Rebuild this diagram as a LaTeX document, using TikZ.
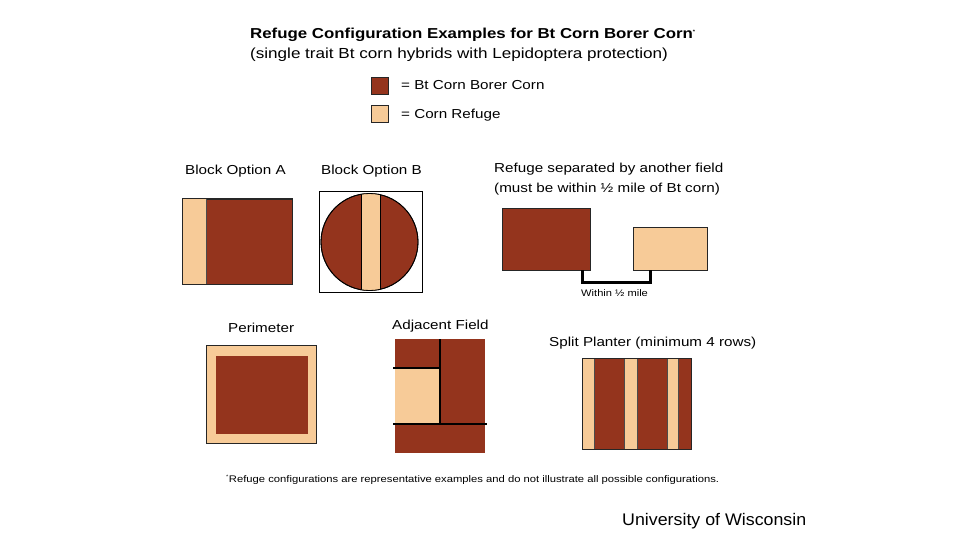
\documentclass[tikz,border=0pt]{standalone}
\usepackage{fontspec}
\setmainfont{Liberation Sans}[FakeStretch=1.17]
\newfontfamily\univfont{Liberation Sans}[FakeStretch=1.06]
\definecolor{btc}{RGB}{148,52,29}
\definecolor{refc}{RGB}{247,203,152}
\begin{document}
\begin{tikzpicture}[x=1pt,y=-1pt,
  txt/.style={anchor=base west,inner sep=0pt,font=\fontsize{13}{15}\selectfont},
  bt/.style={fill=btc,draw=black!85,line width=0.9pt},
  rf/.style={fill=refc,draw=black!85,line width=0.9pt},
  thickline/.style={line width=2.2pt,black},
  fld/.style={rectangle,inner sep=0pt}]
\useasboundingbox (0,0) rectangle (960,540);
\fill[white] (0,0) rectangle (960,540);
% title
\node[txt,font=\fontsize{14.4}{16}\bfseries\selectfont] (title) at (250,39) {Refuge Configuration Examples for Bt Corn Borer Corn\textsuperscript{\tiny*}};
\node[txt,font=\fontsize{14.6}{16}\selectfont] (subtitle) at (250,59) {(single trait Bt corn hybrids with Lepidoptera protection)};
% legend
\node[fld,bt,minimum width=17pt,minimum height=17pt] (legbt) at (379.5,85.5) {};
\node[txt] (legbttxt) at (401,90) {= Bt Corn Borer Corn};
\node[fld,rf,minimum width=17pt,minimum height=17pt] (legrf) at (379.5,113.5) {};
\node[txt] (legrftxt) at (401,119) {= Corn Refuge};
% Block option A
\node[txt] (laba) at (185,175) {Block Option A};
\node[fld,bt,minimum width=109pt,minimum height=85pt] (blocka) at (237.5,241.5) {};
\fill[refc] (blocka.north west) rectangle ([xshift=24pt]blocka.south west);
\draw[black!85,line width=0.9pt] (blocka.north west) rectangle (blocka.south east);
\draw[black!70,line width=0.6pt] ([xshift=24pt]blocka.north west) -- ([xshift=24pt]blocka.south west);
% Block option B
\node[txt] (labb) at (321,175) {Block Option B};
\node[fld,draw=black,line width=0.9pt,minimum width=103pt,minimum height=101pt] (blockb) at (370.5,241.5) {};
\node[circle,inner sep=0pt,minimum size=97pt,fill=btc,draw=black,line width=0.8pt] (circb) at (369.5,242) {};
\begin{scope}
\clip (circb.center) circle (48.5pt);
\fill[refc] (361,190) rectangle (380,294);
\draw[black,line width=0.9pt] (361,190) -- (361,294) (380,190) -- (380,294);
\end{scope}
\draw[black,line width=0.8pt] (circb.center) circle (48.5pt);
% Refuge separated
\node[txt] (labsep1) at (494,173) {Refuge separated by another field};
\node[txt] (labsep2) at (494,192) {(must be within ½ mile of Bt corn)};
\node[fld,bt,minimum width=88pt,minimum height=62pt] (btfield) at (546,239) {};
\node[fld,rf,minimum width=74pt,minimum height=43pt] (rffield) at (670,248.5) {};
\draw[thickline] ([xshift=-8pt]btfield.south east) -- ++(0,12) coordinate (c1) -| ([xshift=18pt]rffield.south west);
\node[txt,font=\fontsize{9.5}{11}\selectfont] (within) at (581,296) {Within ½ mile};
% Perimeter
\node[txt] (labper) at (228,332) {Perimeter};
\node[fld,rf,minimum width=110pt,minimum height=98pt] (perout) at (261,394) {};
\node[fld,fill=btc,minimum width=92pt,minimum height=78pt] (perin) at (262,395) {};
% Adjacent field
\node[txt] (labadj) at (392,329) {Adjacent Field};
\node[fld,fill=btc,minimum width=90pt,minimum height=114pt] (adj) at (440,396) {};
\fill[refc] (395,368) rectangle (440,424);
\draw[thickline,line width=2pt] (440,339) -- (440,424);
\draw[thickline,line width=2pt] (393,368) -- (440,368);
\draw[thickline,line width=2pt] (393,424) -- (487,424);
% Split planter
\node[txt] (labsplit) at (549,346) {Split Planter (minimum 4 rows)};
\fill[btc] (582,358) rectangle (691,449);
\foreach \a/\b in {582/594,624/637,667/678}{\fill[refc] (\a,358) rectangle (\b,449);}
\foreach \x in {594,624,637,667,678}{\draw[black!70,line width=0.6pt] (\x,358) -- (\x,449);}
\node[fld,draw=black!85,line width=0.9pt,minimum width=109pt,minimum height=91pt] (split) at (636.5,403.5) {};
% footnote
\node[txt,font=\fontsize{9.6}{11}\selectfont] (foot) at (226,482) {\textsuperscript{\tiny*}Refuge configurations are representative examples and do not illustrate all possible configurations.};
\node[txt,font=\univfont\fontsize{16.8}{18}\selectfont] (univ) at (622,525) {University of Wisconsin};
\end{tikzpicture}
\end{document}
